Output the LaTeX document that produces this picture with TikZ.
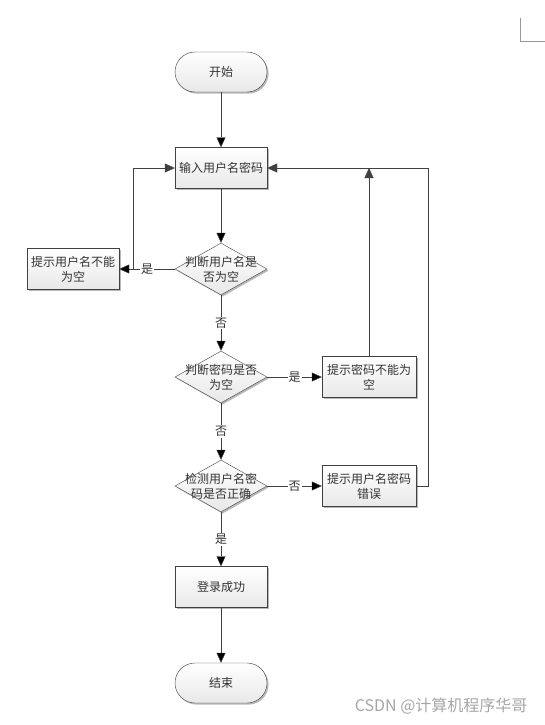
\documentclass[tikz,border=0pt]{standalone}
\usepackage{fontspec}
\setmainfont{Noto Sans CJK SC}
\usepackage{tikz}
\usetikzlibrary{positioning, arrows.meta, shapes.geometric, shadows}

\begin{document}
\begin{tikzpicture}[x=1pt, y=-1pt, node distance=100pt, on grid, thin,
   every node/.style={font=\fontsize{12}{15}\selectfont, text=black!80},
   base/.style={draw=black!75, top color=white, bottom color=black!9,
      drop shadow={shadow xshift=1.6pt, shadow yshift=-1.6pt, fill=black!35, opacity=.8}},
   term/.style={base, rounded corners=20pt, minimum width=92pt, minimum height=40pt},
   proc/.style={base, rectangle, align=center, minimum width=92pt, minimum height=41pt},
   decide/.style={base, diamond, minimum width=92pt, minimum height=52pt, inner sep=0pt},
   lbl/.style={fill=white, inner sep=1pt},
   arr/.style={-{Triangle[length=10pt,width=9pt]}, draw=black!75}]
   \useasboundingbox (0,0) rectangle (545,725);

   \node[term] (start) at (221,72) {开始};
   \node[proc] (input) [below=96pt of start] {输入用户名密码};
   \node[decide, label={[align=center]center:判断用户名是\\否为空}] (d1) [below=101pt of input] {};
   \node[proc] (box1) [left=148pt of d1] {提示用户名不能\\为空};
   \node[decide, label={[align=center]center:判断密码是否\\为空}] (d2) [below=108pt of d1] {};
   \node[proc, minimum width=94pt] (box2) [right=148pt of d2] {提示密码不能为\\空};
   \node[decide, label={[align=center]center:检测用户名密\\码是否正确}] (d3) [below=109pt of d2] {};
   \node[proc, minimum width=94pt] (box3) [right=148pt of d3] {提示用户名密码\\错误};
   \node[proc] (ok) [below=101pt of d3] {登录成功};
   \node[term] (end) [below=96pt of ok] {结束};

   \coordinate (j1) at ([xshift=14pt]box1.east);
   \coordinate (r3) at ([xshift=12pt]box3.east);

   \path[arr]
    (start) edge (input)
    (input) edge (d1)
    (d1) edge node[lbl] {是} (box1)
    (d1) edge node[lbl] {否} (d2)
    (d2) edge node[lbl] {是} (box2)
    (d2) edge node[lbl] {否} (d3)
    (d3) edge node[lbl] {否} (box3)
    (d3) edge node[lbl] {是} (ok)
    (ok) edge (end);

   % back to the input box
   \draw[arr] (j1) |- (input.west);
   \draw[arr] (box2.north) -- (box2.north |- input.east);
   \draw[arr] (box3.east) -- (r3) |- (input.east);

   % page corner mark and watermark
   \draw[black!40] (520,18) -- (520,41) -- (545,41);
   \node[anchor=east, text=black!35, font=\fontsize{16}{18}\selectfont] (mark) at (531,706) {CSDN @计算机程序华哥};
\end{tikzpicture}
\end{document}
